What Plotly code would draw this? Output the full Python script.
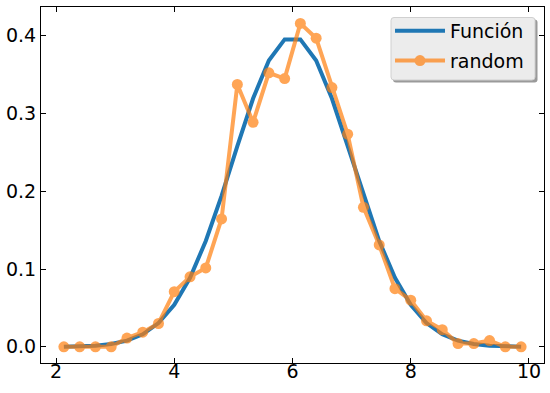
import plotly.graph_objects as go

x_vals = [2.133, 2.4, 2.667, 2.933, 3.2, 3.467, 3.733, 4.0, 4.267, 4.533,
          4.8, 5.067, 5.333, 5.6, 5.867, 6.133, 6.4, 6.667, 6.933, 7.2,
          7.467, 7.733, 8.0, 8.267, 8.533, 8.8, 9.067, 9.333, 9.6, 9.867]
funcion_vals = [0.000226, 0.000612, 0.00154, 0.00362, 0.00792, 0.01612, 0.03055, 0.05399, 0.08884, 0.1361,
                0.1942, 0.2581, 0.3194, 0.3683, 0.3954, 0.3954, 0.3683, 0.3194, 0.2581, 0.1942,
                0.1361, 0.08884, 0.05399, 0.03055, 0.01612, 0.00792, 0.00362, 0.00154, 0.000612, 0.000226]
random_vals = [0.0, 0.0, 0.0, 0.0, 0.0113, 0.0188, 0.0300, 0.0710, 0.0900, 0.1015,
               0.1645, 0.3375, 0.2888, 0.3525, 0.3450, 0.4160, 0.3970, 0.3335, 0.2735, 0.1795,
               0.1310, 0.0748, 0.0600, 0.0335, 0.0220, 0.0042, 0.0042, 0.0080, 0.0, 0.0]
x_ticks = [2, 4, 6, 8, 10]
y_ticks = [0.0, 0.1, 0.2, 0.3, 0.4]

W, H = 550, 393
ML, MR, MT, MB = 41, 6, 7, 30
PW, PH = W - ML - MR, H - MT - MB


def px_x(p):
    return (p - ML) / PW


def px_y(p):
    return 1 - (p - MT) / PH


def rounded_path(x0, y0, x1, y1, r):
    # pixel box -> path in paper coordinates with rounded corners
    X = lambda v: f"{px_x(v):.5f}"
    Y = lambda v: f"{px_y(v):.5f}"
    return (f"M {X(x0 + r)},{Y(y0)} L {X(x1 - r)},{Y(y0)} Q {X(x1)},{Y(y0)} {X(x1)},{Y(y0 + r)} "
            f"L {X(x1)},{Y(y1 - r)} Q {X(x1)},{Y(y1)} {X(x1 - r)},{Y(y1)} "
            f"L {X(x0 + r)},{Y(y1)} Q {X(x0)},{Y(y1)} {X(x0)},{Y(y1 - r)} "
            f"L {X(x0)},{Y(y0 + r)} Q {X(x0)},{Y(y0)} {X(x0 + r)},{Y(y0)} Z")


fig = go.Figure()
fig.add_trace(go.Scatter(x=x_vals, y=funcion_vals, mode="lines", name="Función",
                         legendgroup="a",
                         line=dict(color="#1f77b4", width=4)))
fig.add_trace(go.Scatter(x=x_vals, y=random_vals, mode="lines+markers", name="random",
                         legendgroup="b",
                         line=dict(color="#ff7f0e", width=4),
                         marker=dict(color="#ff7f0e", size=11), opacity=0.7))

axis_common = dict(showgrid=False, zeroline=False, showline=True, linecolor="black",
                   linewidth=1, mirror="ticks", ticks="inside", ticklen=5,
                   tickcolor="black", tickwidth=1, automargin=False,
                   tickfont=dict(family="DejaVu Sans", size=19, color="black"))

fig.update_xaxes(range=[1.746, 10.254], tickvals=x_ticks, ticklabelstandoff=-9,
                 ticktext=[str(v) for v in x_ticks], **axis_common)
fig.update_yaxes(range=[-0.0208, 0.4371], tickvals=y_ticks,
                 ticktext=[f"{v:.1f}" for v in y_ticks], **axis_common)

# legend frame: shadow + box (drawn as shapes, legend itself transparent)
fig.add_shape(type="path", xref="paper", yref="paper",
              path=rounded_path(393, 19.5, 537.5, 82.5, 3),
              fillcolor="#9a9a9a", line=dict(width=0), layer="above")
fig.add_shape(type="path", xref="paper", yref="paper",
              path=rounded_path(391, 17.5, 535, 80, 3),
              fillcolor="#ececec", line=dict(color="#d0d0d0", width=1), layer="above")

fig.update_layout(
    width=W, height=H,
    margin=dict(l=ML, r=MR, t=MT, b=MB, autoexpand=False),
    paper_bgcolor="white", plot_bgcolor="white",
    font=dict(family="DejaVu Sans", size=19, color="black"),
    legend=dict(x=px_x(390), y=px_y(12), xanchor="left", yanchor="top",
                bgcolor="rgba(0,0,0,0)", borderwidth=0,
                font=dict(family="DejaVu Sans", size=19, color="black"),
                itemwidth=50, tracegroupgap=2),
    showlegend=True,
)

fig.write_html("out.html")
